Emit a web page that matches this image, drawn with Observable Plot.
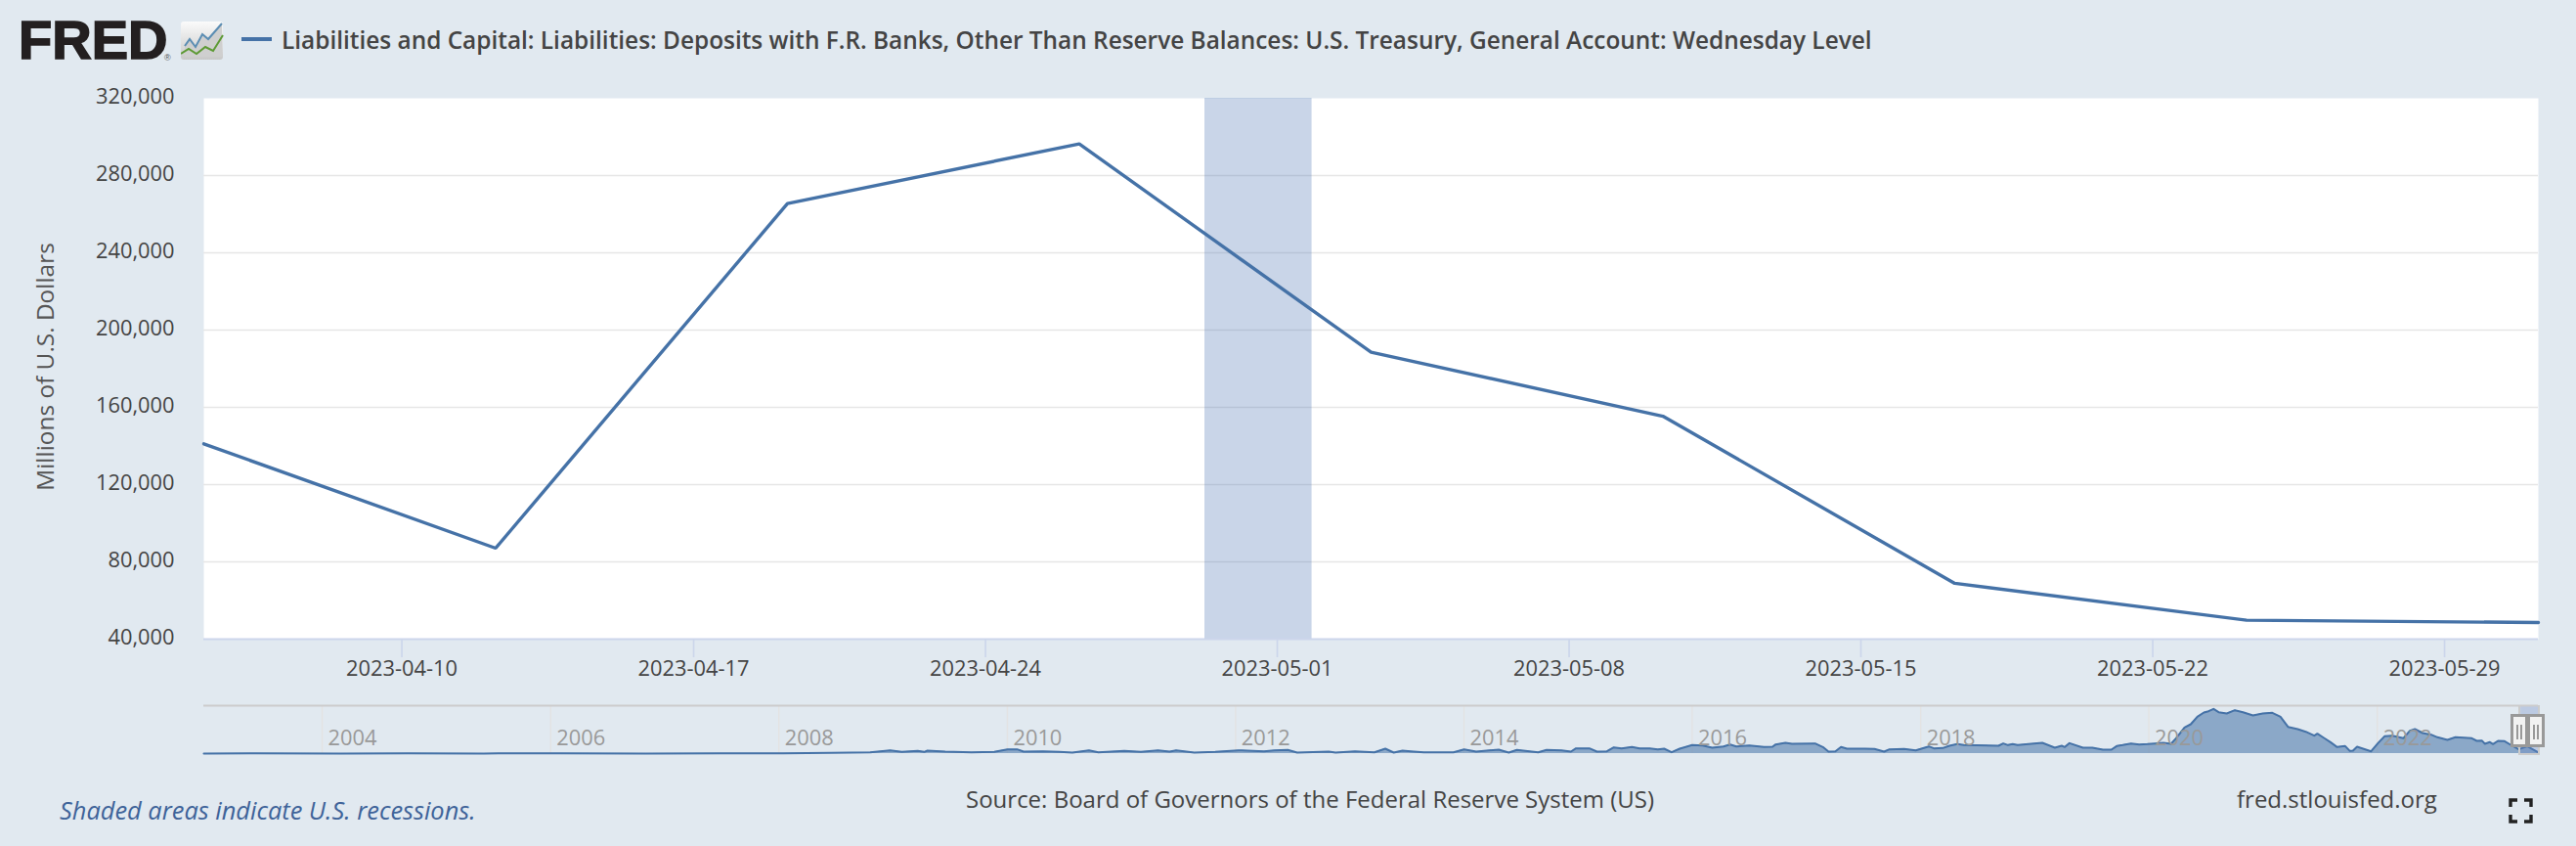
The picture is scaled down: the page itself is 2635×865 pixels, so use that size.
<!DOCTYPE html>
<html>
<head>
<meta charset="utf-8">
<script src="https://cdn.jsdelivr.net/npm/d3@7"></script>
<script src="https://cdn.jsdelivr.net/npm/@observablehq/plot@0.6"></script>
<style>
html,body{margin:0;padding:0;background:#e1e9f0;width:2635px;height:865px;overflow:hidden;font-family:"Open Sans",sans-serif}
#page{position:relative;width:2635px;height:865px}
.abs{position:absolute;white-space:nowrap}
.plotwrap{position:absolute;left:0}
.plotwrap svg{display:block}
.txt{font-size:24px;color:#444;line-height:30px}
.handle{position:absolute;top:730px;width:12px;height:28px;background:#f2f2f2;border:3px solid #999;box-sizing:content-box}
.grip{position:absolute;top:8px;width:2px;height:15px;background:#999}
</style>
</head>
<body>
<div id="page">
  <div class="abs" id="fred" style="left:19px;top:9px;font:700 56px/64px 'Liberation Sans',sans-serif;color:#231f20;-webkit-text-stroke:1.6px #231f20;letter-spacing:0">FRED</div>
  <div class="abs" style="left:168px;top:54px;font:400 9px/10px 'Liberation Sans',sans-serif;color:#555">®</div>
  <svg class="abs" style="left:185px;top:22px" width="44" height="40" viewBox="0 0 44 40">
    <defs><linearGradient id="g" x1="0" y1="0" x2="0" y2="1"><stop offset="0" stop-color="#fbfbfb"/><stop offset="1" stop-color="#c8c8c8"/></linearGradient></defs>
    <rect width="43" height="39" rx="3" fill="url(#g)"/>
    <path d="M4 25L9 18L15 26L22 13L28 18L42 2V36H4Z" fill="#cfcfcf"/>
    <path d="M4 25L9 18L15 26L22 13L28 18L42 2" fill="none" stroke="#5b8db3" stroke-width="2"/>
    <path d="M0 33L8 28L16 33L25 26L33 30L43 14" fill="none" stroke="#5d9a35" stroke-width="2"/>
  </svg>
  <div class="abs" style="left:247px;top:38px;width:31px;height:4px;background:#4572a7"></div>
  <div class="abs txt" id="title" style="left:288px;top:26px;font-size:24.4px;font-weight:600;color:#444">Liabilities and Capital: Liabilities: Deposits with F.R. Banks, Other Than Reserve Balances: U.S. Treasury, General Account: Wednesday Level</div>
  <div class="plotwrap" id="main" style="top:0"></div>
  <div class="plotwrap" id="nav" style="top:715px"></div>
  <div class="abs" style="left:2576px;top:721px;width:18px;height:49px;border:2px solid #ccc;border-top:none"></div>
  <div class="handle" style="left:2568px"><div class="grip" style="left:3px"></div><div class="grip" style="left:7px"></div></div>
  <div class="handle" style="left:2585px"><div class="grip" style="left:3px"></div><div class="grip" style="left:7px"></div></div>
  <div class="abs txt" style="left:61px;top:813px;font-size:25.4px;font-style:italic;color:#3e6399">Shaded areas indicate U.S. recessions.</div>
  <div class="abs txt" style="left:988px;top:802px">Source: Board of Governors of the Federal Reserve System (US)</div>
  <div class="abs txt" style="left:2288px;top:802px">fred.stlouisfed.org</div>
  <svg class="abs" style="left:2566px;top:816px" width="25" height="26" viewBox="0 0 25 26">
    <path d="M2 9V2H9M16 2H23V9M23 17V24H16M9 24H2V17" fill="none" stroke="#222" stroke-width="3.4"/>
  </svg>
</div>
<script>
// Main series: Wednesday level, millions of U.S. dollars
const weekDates = ["2023-04-05","2023-04-12","2023-04-19","2023-04-26","2023-05-03","2023-05-10","2023-05-17","2023-05-24","2023-05-31"];
const weekValues = [141100,87100,265500,296400,188500,155400,68900,49800,48600];
const xTicks = ["2023-04-10","2023-04-17","2023-04-24","2023-05-01","2023-05-08","2023-05-15","2023-05-22","2023-05-29"];
const yTicks = [40000,80000,120000,160000,200000,240000,280000,320000];
const yTitle = "Millions of U.S. Dollars";
const recessionStart = "2023-04-29T06:20Z";
const recessionEnd = "2023-05-01T20:00Z";

// Overview series, read from the navigator strip
const navDates = ["2002-12-18","2003-06-01","2004-03-01","2004-10-01","2005-06-01","2006-02-01","2006-11-01","2007-07-01","2008-01-15","2008-06-16","2008-10-19","2008-12-22","2009-01-28","2009-03-20","2009-04-10","2009-04-20","2009-06-16","2009-09-08","2009-11-20","2010-01-01","2010-02-01","2010-02-22","2010-04-25","2010-06-16","2010-07-28","2010-09-19","2010-10-19","2011-01-10","2011-03-04","2011-04-28","2011-06-04","2011-06-25","2011-08-22","2011-10-28","2012-01-10","2012-04-01","2012-05-04","2012-06-16","2012-07-16","2012-10-25","2012-11-16","2013-01-17","2013-03-20","2013-04-24","2013-05-21","2013-06-18","2013-07-14","2013-08-25","2013-11-28","2014-01-01","2014-02-09","2014-04-22","2014-05-24","2014-06-19","2014-08-26","2014-09-22","2014-11-09","2014-12-09","2014-12-25","2015-02-06","2015-03-02","2015-04-03","2015-04-25","2015-05-20","2015-06-22","2015-07-17","2015-08-18","2015-09-13","2015-10-03","2015-10-27","2015-11-22","2016-01-01","2016-02-03","2016-03-05","2016-04-10","2016-05-01","2016-05-21","2016-07-02","2016-08-18","2016-09-14","2016-09-24","2016-10-25","2016-11-15","2017-01-28","2017-02-22","2017-03-12","2017-04-03","2017-04-21","2017-05-10","2017-07-06","2017-08-06","2017-09-06","2017-09-23","2017-11-09","2017-12-16","2018-01-27","2018-02-12","2018-03-13","2018-04-03","2018-04-28","2018-05-19","2018-09-07","2018-09-22","2018-10-07","2018-10-22","2018-11-07","2019-01-25","2019-03-06","2019-03-28","2019-04-07","2019-04-22","2019-06-04","2019-07-04","2019-08-07","2019-09-03","2019-09-20","2019-10-09","2019-11-05","2019-12-01","2019-12-27","2020-01-21","2020-02-16","2020-03-12","2020-03-28","2020-04-24","2020-05-14","2020-06-04","2020-06-25","2020-07-10","2020-07-26","2020-08-11","2020-09-06","2020-10-02","2020-10-28","2020-11-29","2020-12-30","2021-01-30","2021-02-25","2021-03-11","2021-03-21","2021-04-21","2021-05-17","2021-06-13","2021-06-23","2021-07-14","2021-08-04","2021-08-25","2021-09-20","2021-10-05","2021-10-15","2021-10-28","2021-11-16","2021-12-12","2022-01-03","2022-01-24","2022-02-18","2022-03-25","2022-04-15","2022-05-01","2022-05-26","2022-06-22","2022-07-12","2022-08-13","2022-09-08","2022-10-30","2022-11-15","2022-12-01","2022-12-11","2022-12-27","2023-01-06","2023-01-22","2023-02-12","2023-03-03","2023-03-29","2023-04-26","2023-05-31"];
const navValues = [5000,6000,5000,7000,5000,6000,5000,7000,6000,27000,53000,133000,67000,107000,67000,120000,80000,53000,67000,173000,173000,80000,93000,67000,40000,133000,53000,107000,67000,133000,80000,133000,40000,67000,133000,93000,133000,147000,40000,80000,40000,93000,53000,200000,40000,120000,93000,53000,53000,173000,80000,160000,40000,147000,53000,147000,133000,80000,213000,213000,80000,93000,253000,213000,267000,213000,213000,173000,200000,53000,200000,347000,333000,240000,293000,373000,293000,333000,267000,280000,373000,440000,400000,413000,267000,80000,93000,267000,200000,200000,187000,80000,173000,187000,133000,293000,213000,227000,320000,387000,347000,320000,413000,347000,387000,347000,440000,240000,320000,267000,427000,240000,240000,160000,160000,307000,347000,413000,373000,387000,413000,440000,400000,627000,1067000,1200000,1507000,1680000,1733000,1827000,1693000,1640000,1773000,1693000,1560000,1640000,1667000,1507000,1267000,1093000,1000000,893000,733000,813000,640000,467000,267000,307000,107000,120000,280000,200000,93000,427000,707000,733000,627000,933000,1000000,840000,773000,667000,560000,667000,627000,520000,533000,400000,467000,387000,520000,507000,360000,173000,296400,48600];
const navYears = ["2004","2006","2008","2010","2012","2014","2016","2018","2020","2022"];

const parse = s => new Date(s.length === 10 ? s + "T06:00Z" : s);
const utc = s => new Date(s + "T00:00Z");

const weekly = weekDates.map((d, i) => ({date: parse(d), value: weekValues[i]}));
const nav = navDates.map((d, i) => ({date: parse(d), value: navValues[i]}));
const yearRows = navYears.map(y => ({date: utc(y + "-01-01"), label: y}));
const recessions = [{start: new Date(recessionStart), end: new Date(recessionEnd)}];
const FS = 21.84;

const main = Plot.plot({
  width: 2635, height: 700,
  marginTop: 100, marginBottom: 47, marginLeft: 208, marginRight: 39,
  style: {background: "transparent", overflow: "visible", fontFamily: "'Open Sans',sans-serif", fontSize: FS + "px"},
  x: {type: "utc", domain: [weekly[0].date, weekly[weekly.length - 1].date]},
  y: {domain: [40000, 320000]},
  marks: [
    Plot.frame({fill: "#fff", stroke: null}),
    Plot.ruleY(yTicks.slice(1, -1), {stroke: "#e6e6e6", strokeWidth: 1.7}),
    Plot.rect(recessions, {x1: "start", x2: "end", fill: "rgb(75,115,178)", fillOpacity: 0.3}),
    Plot.ruleY([40000], {stroke: "#ccd6eb", strokeWidth: 2.2}),
    Plot.axisX(xTicks.map(utc), {tickSize: 19, tickPadding: 3, stroke: "#ccd6eb", strokeWidth: 1.7, fill: "#444", tickFormat: d3.utcFormat("%Y-%m-%d"), label: null, fontSize: FS}),
    Plot.axisY(yTicks, {tickSize: 0, tickPadding: 30, fill: "#444", tickFormat: d3.format(","), label: null, dy: -2, fontSize: FS}),
    Plot.text([yTitle], {frameAnchor: "left", textAnchor: "middle", rotate: -90, dx: -161, dy: -2, fill: "#555", fontSize: 24.4}),
    Plot.line(weekly, {x: "date", y: "value", stroke: "#4572a7", strokeWidth: 3.4, strokeLinejoin: "miter", curve: "linear"})
  ]
});
document.getElementById("main").append(main);

const navPlot = Plot.plot({
  width: 2635, height: 60,
  marginTop: 6, marginBottom: 5, marginLeft: 208, marginRight: 39,
  style: {background: "transparent", overflow: "visible", fontFamily: "'Open Sans',sans-serif", fontSize: FS + "px"},
  x: {type: "utc", domain: [parse("2002-12-18"), weekly[weekly.length - 1].date], axis: null},
  y: {domain: [0, 1960000], axis: null},
  marks: [
    Plot.ruleX(yearRows, {x: "date", stroke: "#e3e3e3", strokeWidth: 1.4}),
    Plot.areaY(nav, {x: "date", y: "value", fill: "#4572a7", fillOpacity: 0.55}),
    Plot.line(nav, {x: "date", y: "value", stroke: "#4572a7", strokeWidth: 2}),
    Plot.text(yearRows, {x: "date", text: "label", frameAnchor: "bottom", textAnchor: "start", lineAnchor: "middle", dx: 6, dy: -16, fill: "#999", fontSize: FS}),
    Plot.rect(recessions.map(() => ({a: weekly[0].date, b: weekly[weekly.length - 1].date})), {x1: "a", x2: "b", fill: "#6685c2", fillOpacity: 0.3}),
    Plot.ruleY([1960000], {stroke: "#ccc", strokeWidth: 2.2})
  ]
});
document.getElementById("nav").append(navPlot);
</script>
</body>
</html>
